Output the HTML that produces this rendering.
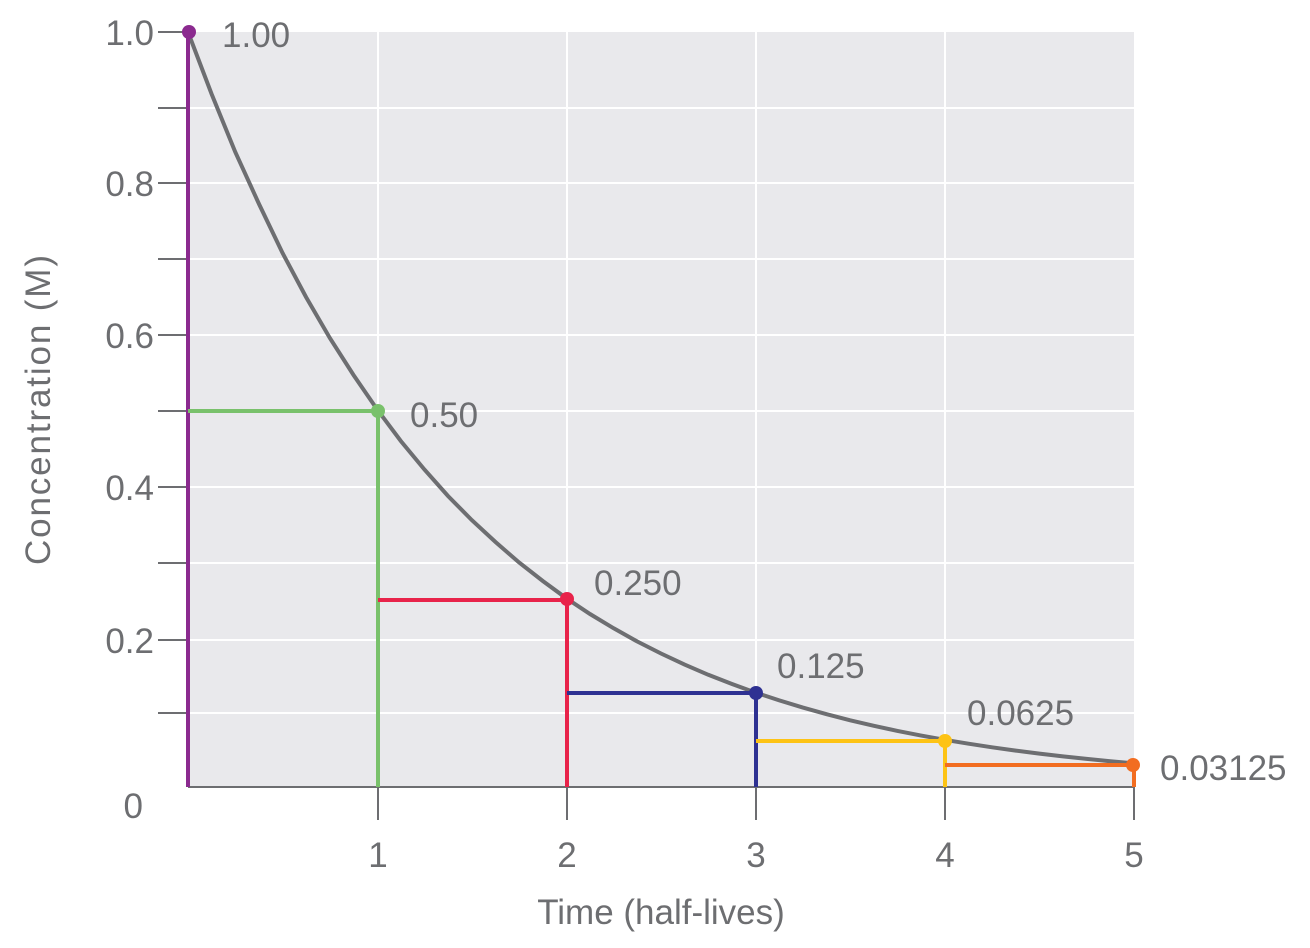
<!DOCTYPE html>
<html><head><meta charset="utf-8"><style>body{margin:0;background:#fff}</style></head>
<body>
<svg width="1310" height="943" xmlns="http://www.w3.org/2000/svg" font-family="'Liberation Sans',sans-serif" fill="#6d6e71">
<rect x="188" y="32" width="946" height="755" fill="#e9e9ec"/>
<g stroke="#fff" stroke-width="2">
<line x1="188" x2="1134" y1="108" y2="108"/><line x1="188" x2="1134" y1="183" y2="183"/>
<line x1="188" x2="1134" y1="259" y2="259"/><line x1="188" x2="1134" y1="335" y2="335"/>
<line x1="188" x2="1134" y1="411" y2="411"/><line x1="188" x2="1134" y1="487" y2="487"/>
<line x1="188" x2="1134" y1="563" y2="563"/><line x1="188" x2="1134" y1="640" y2="640"/>
<line x1="188" x2="1134" y1="713" y2="713"/>
<line x1="378" x2="378" y1="32" y2="787"/><line x1="567" x2="567" y1="32" y2="787"/>
<line x1="756" x2="756" y1="32" y2="787"/><line x1="945" x2="945" y1="32" y2="787"/>
</g>
<g stroke="#6d6e71" stroke-width="2">
<line x1="188" x2="1134" y1="787" y2="787"/>
<line x1="158" x2="188" y1="32" y2="32"/><line x1="158" x2="188" y1="108" y2="108"/>
<line x1="158" x2="188" y1="183" y2="183"/><line x1="158" x2="188" y1="259" y2="259"/>
<line x1="158" x2="188" y1="335" y2="335"/><line x1="158" x2="188" y1="411" y2="411"/>
<line x1="158" x2="188" y1="487" y2="487"/><line x1="158" x2="188" y1="563" y2="563"/>
<line x1="158" x2="188" y1="640" y2="640"/><line x1="158" x2="188" y1="713" y2="713"/>
<line x1="378" x2="378" y1="787" y2="820"/><line x1="567" x2="567" y1="787" y2="820"/>
<line x1="756" x2="756" y1="787" y2="820"/><line x1="945" x2="945" y1="787" y2="820"/>
<line x1="1134" x2="1134" y1="787" y2="820"/>
</g>
<polyline points="188,32 211.6,94 235.3,152.1 259,204 282.6,253.1 306,297 329.9,338.1 353.5,375 377.2,409.5 400.8,441 424.5,469.6 448,496 471.8,520.1 495.5,542 519.1,562.5 542.8,581 566.4,598.3 590,614 613.7,628.3 637.3,641.5 661,653.5 684.6,664.6 708.3,674.8 732,684 755.6,692.6 779.3,700.4 802.9,707.6 826.6,714.2 850.2,720.3 873.9,725.8 897.5,730.9 921.2,735.6 944.8,739.8 968.5,743.7 992.1,747.3 1015.8,750.6 1039.4,753.6 1063,756.4 1086.7,758.9 1110.3,761.2 1134,763.4" fill="none" stroke="#6d6e71" stroke-width="4"/>
<g stroke-width="4" fill="none">
<path d="M188,32 V787" stroke="#8b2a8f"/>
<path d="M188,411 H378 V787" stroke="#79c16b"/>
<path d="M378,600 H567 V787" stroke="#e8234a"/>
<path d="M567,693 H756 V787" stroke="#2e3192"/>
<path d="M756,741 H945 V787" stroke="#fdc315"/>
<path d="M945,765 H1134 V787" stroke="#f26d21"/>
</g>
<circle cx="189" cy="32" r="7" fill="#8b2a8f"/>
<circle cx="378" cy="411" r="7" fill="#79c16b"/>
<circle cx="567" cy="599" r="7" fill="#e8234a"/>
<circle cx="756" cy="693" r="7" fill="#2e3192"/>
<circle cx="945" cy="741" r="7" fill="#fdc315"/>
<circle cx="1133" cy="765" r="7" fill="#f26d21"/>
<g font-size="35">
<text x="222" y="47">1.00</text>
<text x="410" y="427">0.50</text>
<text x="594" y="595">0.250</text>
<text x="777" y="678">0.125</text>
<text x="967" y="725">0.0625</text>
<text x="1160" y="780">0.03125</text>
<g text-anchor="end">
<text x="154" y="45">1.0</text><text x="154" y="196">0.8</text>
<text x="154" y="348">0.6</text><text x="154" y="500">0.4</text>
<text x="154" y="653">0.2</text><text x="143" y="818">0</text>
</g>
<g text-anchor="middle">
<text x="378" y="867">1</text><text x="567" y="867">2</text><text x="756" y="867">3</text>
<text x="945" y="867">4</text><text x="1134" y="867">5</text>
<text x="661" y="924">Time (half-lives)</text>
<text transform="translate(50,410) rotate(-90)" textLength="310">Concentration (M)</text>
</g>
</g>
</svg>
</body></html>
